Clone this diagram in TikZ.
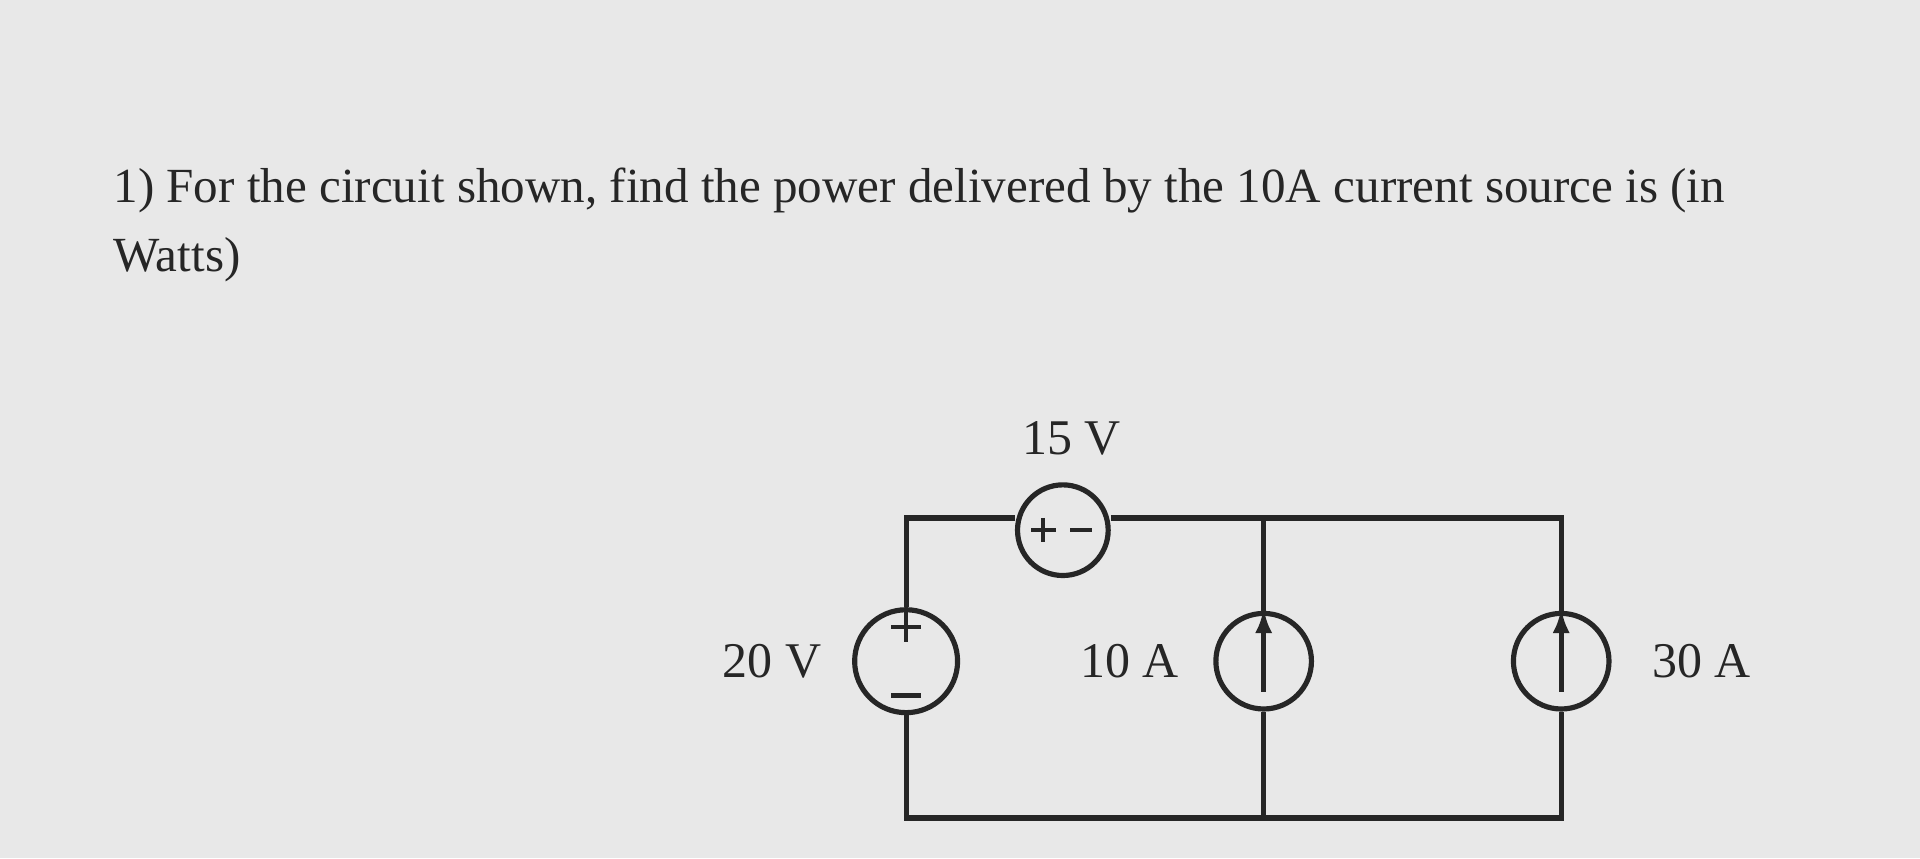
\documentclass[tikz,border=0pt]{standalone}
\usepackage{fontspec}
\setmainfont{Liberation Serif}
\usetikzlibrary{arrows.meta}
\begin{document}
\begin{tikzpicture}[x=0.01cm,y=-0.01cm,
  w/.style={line width=1.2pt,draw=black!85},
  src/.style={circle,draw=black!85,line width=1.2pt,fill=none,inner sep=0pt},
  lbl/.style={font=\fontsize{11.6pt}{14pt}\selectfont,text=black!85}]
\fill[gray!18] (0,0) rectangle (1568,701);
\useasboundingbox (0,0) rectangle (1568,701);
\node[anchor=base west,inner sep=0pt,font=\fontsize{11.4pt}{14pt}\selectfont,text=black!85] (q1) at (92,165) {1) For the circuit shown, find the power delivered by the 10A current source is (in};
\node[anchor=base west,inner sep=0pt,font=\fontsize{11.4pt}{14pt}\selectfont,text=black!85] (q2) at (92,222) {Watts)};
\node[src,minimum size=0.74cm] (v15) at (868,433) {};
\node[src,minimum size=0.84cm] (v20) at (740,540) {};
\node[src,minimum size=0.78cm] (i10) at (1032,540) {};
\node[src,minimum size=0.78cm] (i30) at (1275,540) {};
\coordinate (tl) at (740,423); \coordinate (tm) at (1032,423); \coordinate (tr) at (1275,423);
\coordinate (bl) at (740,668); \coordinate (bm) at (1032,668); \coordinate (br) at (1275,668);
\draw[w] (v20.north) -- (tl) -- (tl -| v15.west);
\draw[w] (tl -| v15.east) -- (tm) -- (tr) -- (i30.north);
\draw[w] (tm) -- (i10.north);
\draw[w] (v20.south) -- (bl) -- (br) -- (i30.south);
\draw[w] (i10.south) -- (bm);
\draw[w,line width=1pt] (842,433) -- (862,433) (852,423) -- (852,443);
\draw[w,line width=1pt] (874,433) -- (892,433);
\draw[w,line width=1pt] (728,512) -- (752,512) (740,500) -- (740,524);
\draw[w,line width=1pt] (728,568) -- (752,568);
\draw[w,-{Latex[length=0.2cm,width=0.14cm]}] (1032,565) -- (1032,497);
\draw[w,-{Latex[length=0.2cm,width=0.14cm]}] (1275,565) -- (1275,497);
\node[lbl] (l15) at (875,358) {15 V};
\node[lbl,anchor=east] (l20) at (683,540) {20 V};
\node[lbl,anchor=east] (l10) at (975,540) {10 A};
\node[lbl,anchor=west] (l30) at (1337,540) {30 A};
\end{tikzpicture}
\end{document}
